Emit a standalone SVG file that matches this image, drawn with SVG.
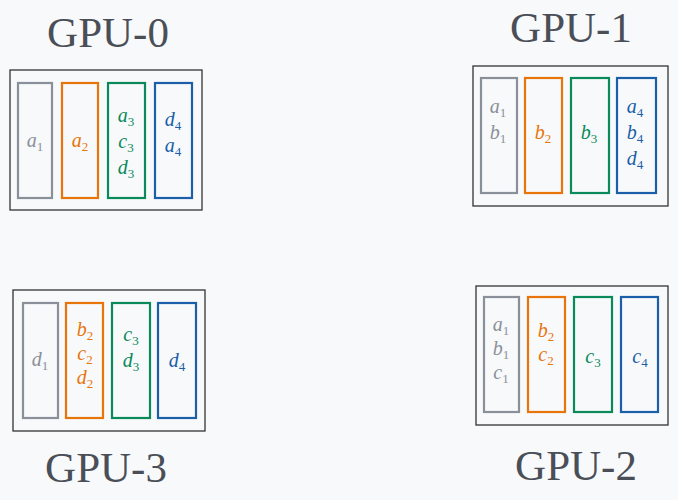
<svg xmlns="http://www.w3.org/2000/svg" width="678" height="500" viewBox="0 0 678 500">
<style>
.bg{fill:#f8f9fb}
.box{fill:none;stroke:#333;stroke-width:1.3}
.col{fill:none;stroke-width:2.2}
.g{stroke:#8a9099;fill:#8a9099}
.o{stroke:#e8750a;fill:#e8750a}
.gr{stroke:#0a8a5a;fill:#0a8a5a}
.b{stroke:#1a5fa8;fill:#1a5fa8}
.col.g,.col.o,.col.gr,.col.b{fill:none}
.t{font-family:"Liberation Serif",serif;font-size:43px;fill:#4a4f57;text-anchor:middle}
.m{font-family:"Liberation Serif",serif;font-style:italic;font-size:20px;text-anchor:middle;stroke:none}
.s{font-size:13px;font-style:normal}
</style>
<rect class="bg" width="678" height="500"/>
<g id="gpu0">
<text class="t" x="108" y="47">GPU-0</text>
<rect class="box" x="10" y="70" width="192" height="140"/>
<rect class="col g" x="18" y="83" width="34" height="115"/>
<rect class="col o" x="62" y="83" width="36" height="115"/>
<rect class="col gr" x="108" y="83" width="37" height="115"/>
<rect class="col b" x="155" y="83" width="37" height="115"/>
<text class="m g" x="35" y="147">a<tspan class="s" dy="4">1</tspan></text>
<text class="m o" x="80" y="147">a<tspan class="s" dy="4">2</tspan></text>
<text class="m gr" x="126" y="122">a<tspan class="s" dy="4">3</tspan></text>
<text class="m gr" x="126" y="148">c<tspan class="s" dy="4">3</tspan></text>
<text class="m gr" x="126" y="174">d<tspan class="s" dy="4">3</tspan></text>
<text class="m b" x="173" y="126">d<tspan class="s" dy="4">4</tspan></text>
<text class="m b" x="173" y="152">a<tspan class="s" dy="4">4</tspan></text>
</g>
<g id="gpu1">
<text class="t" x="571" y="42">GPU-1</text>
<rect class="box" x="473" y="66" width="195" height="140"/>
<rect class="col g" x="481" y="78" width="36" height="115"/>
<rect class="col o" x="525" y="78" width="37" height="115"/>
<rect class="col gr" x="571" y="78" width="38" height="115"/>
<rect class="col b" x="617" y="78" width="39" height="115"/>
<text class="m g" x="498" y="113">a<tspan class="s" dy="4">1</tspan></text>
<text class="m g" x="498" y="139">b<tspan class="s" dy="4">1</tspan></text>
<text class="m o" x="543" y="139">b<tspan class="s" dy="4">2</tspan></text>
<text class="m gr" x="589" y="139">b<tspan class="s" dy="4">3</tspan></text>
<text class="m b" x="635" y="113">a<tspan class="s" dy="4">4</tspan></text>
<text class="m b" x="635" y="139">b<tspan class="s" dy="4">4</tspan></text>
<text class="m b" x="635" y="165">d<tspan class="s" dy="4">4</tspan></text>
</g>
<g id="gpu3">
<text class="t" x="106" y="482">GPU-3</text>
<rect class="box" x="13" y="290" width="192" height="141"/>
<rect class="col g" x="23" y="303" width="35" height="115"/>
<rect class="col o" x="66" y="303" width="37" height="115"/>
<rect class="col gr" x="112" y="303" width="38" height="115"/>
<rect class="col b" x="158" y="303" width="38" height="115"/>
<text class="m g" x="40" y="366">d<tspan class="s" dy="4">1</tspan></text>
<text class="m o" x="85" y="336">b<tspan class="s" dy="4">2</tspan></text>
<text class="m o" x="85" y="360">c<tspan class="s" dy="4">2</tspan></text>
<text class="m o" x="85" y="384">d<tspan class="s" dy="4">2</tspan></text>
<text class="m gr" x="131" y="341">c<tspan class="s" dy="4">3</tspan></text>
<text class="m gr" x="131" y="367">d<tspan class="s" dy="4">3</tspan></text>
<text class="m b" x="177" y="367">d<tspan class="s" dy="4">4</tspan></text>
</g>
<g id="gpu2">
<text class="t" x="576" y="480">GPU-2</text>
<rect class="box" x="476" y="286" width="192" height="139"/>
<rect class="col g" x="484" y="297" width="35" height="115"/>
<rect class="col o" x="528" y="297" width="37" height="115"/>
<rect class="col gr" x="574" y="297" width="38" height="115"/>
<rect class="col b" x="621" y="297" width="37" height="115"/>
<text class="m g" x="501" y="331">a<tspan class="s" dy="4">1</tspan></text>
<text class="m g" x="501" y="355">b<tspan class="s" dy="4">1</tspan></text>
<text class="m g" x="501" y="379">c<tspan class="s" dy="4">1</tspan></text>
<text class="m o" x="546" y="337">b<tspan class="s" dy="4">2</tspan></text>
<text class="m o" x="546" y="361">c<tspan class="s" dy="4">2</tspan></text>
<text class="m gr" x="593" y="363">c<tspan class="s" dy="4">3</tspan></text>
<text class="m b" x="640" y="363">c<tspan class="s" dy="4">4</tspan></text>
</g>
<g id="connectors"/>
</svg>
